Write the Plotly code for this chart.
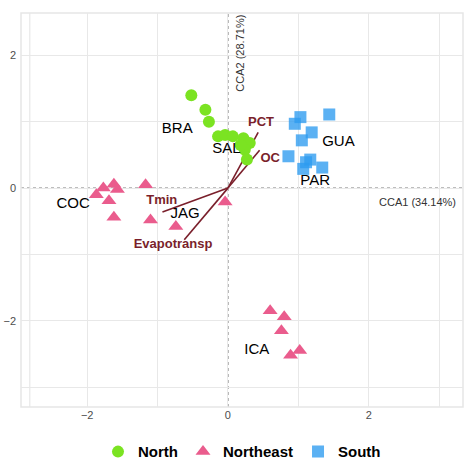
import plotly.graph_objects as go

# ---- data ----
north_x = [-0.52, -0.32, -0.27, -0.14, -0.04, 0.07, 0.22, 0.31, 0.24, 0.27, 0.18]
north_y = [1.40, 1.18, 1.00, 0.78, 0.80, 0.78, 0.75, 0.68, 0.58, 0.43, 0.65]

northeast_x = [-1.87, -1.77, -1.62, -1.57, -1.69, -1.62, -1.17, -1.10, -0.74, -0.04,
               0.60, 0.80, 0.76, 0.89, 1.02]
northeast_y = [-0.10, 0.00, 0.06, -0.02, -0.19, -0.44, 0.05, -0.48, -0.58, -0.21,
               -1.85, -1.94, -2.15, -2.52, -2.45]

south_x = [1.03, 0.95, 1.44, 1.19, 1.05, 0.86, 1.17, 1.11, 1.07, 1.34]
south_y = [1.07, 0.97, 1.11, 0.84, 0.72, 0.48, 0.43, 0.39, 0.29, 0.31]

vec_names = ["PCT", "OC", "Tmin", "Evapotransp"]
vec_x = [0.43, 0.45, -0.93, -0.62]
vec_y = [0.84, 0.57, -0.36, -0.78]
vec_label_x = [0.47, 0.60, -0.94, -0.78]
vec_label_y = [0.98, 0.44, -0.19, -0.86]

site_names = ["BRA", "SAL", "GUA", "PAR", "COC", "JAG", "ICA"]
site_x = [-0.72, -0.02, 1.57, 1.24, -2.20, -0.61, 0.41]
site_y = [0.88, 0.58, 0.69, 0.11, -0.24, -0.40, -2.44]

axis_label_x = "CCA1 (34.14%)"
axis_label_y = "CCA2 (28.71%)"
tick_vals = [-3, -2, -1, 0, 1, 2, 3]
tick_text = ["", "\u22122", "", "0", "", "2", ""]

FONT = "Liberation Sans, Arial, sans-serif"
RED = "#7A1F2B"

fig = go.Figure()

# vectors
lx, ly = [], []
for x, y in zip(vec_x, vec_y):
    lx += [0, x, None]
    ly += [0, y, None]
fig.add_trace(go.Scatter(x=lx, y=ly, mode="lines", line=dict(color=RED, width=1.6),
                         showlegend=False, hoverinfo="skip"))

fig.add_trace(go.Scatter(x=north_x, y=north_y, mode="markers", name="North",
                         marker=dict(symbol="circle", size=12, color="#7BE322")))
fig.add_trace(go.Scatter(x=northeast_x, y=northeast_y, mode="markers", name="Northeast",
                         marker=dict(symbol="triangle-up", size=13, color="#EA5C8D")))
fig.add_trace(go.Scatter(x=south_x, y=south_y, mode="markers", name="South",
                         marker=dict(symbol="square", size=12, color="rgba(45,155,240,0.78)")))

fig.add_trace(go.Scatter(x=vec_label_x, y=vec_label_y, mode="text", text=vec_names,
                         textfont=dict(family=FONT, size=13, color=RED, weight="bold"),
                         showlegend=False, hoverinfo="skip"))
fig.add_trace(go.Scatter(x=site_x, y=site_y, mode="text", text=site_names,
                         textfont=dict(family=FONT, size=15, color="black"),
                         showlegend=False, hoverinfo="skip"))

fig.add_annotation(x=2.70, y=-0.21, text=axis_label_x, showarrow=False,
                   font=dict(family=FONT, size=11, color="#333333"))
fig.add_annotation(x=0.17, y=2.04, text=axis_label_y, showarrow=False, textangle=-90,
                   font=dict(family=FONT, size=11, color="#333333"))

# reference dotted lines
fig.add_shape(type="line", x0=0, x1=0, y0=0, y1=1, xref="x", yref="paper",
              line=dict(color="#555555", width=1, dash="dot"), layer="below")
fig.add_shape(type="line", x0=0, x1=1, y0=0, y1=0, xref="paper", yref="y",
              line=dict(color="#555555", width=1, dash="dot"), layer="below")
# faint left line + panel border
fig.add_shape(type="line", x0=0.02, x1=0.02, y0=0, y1=1, xref="paper", yref="paper",
              line=dict(color="#E3E3E3", width=1), layer="below")
fig.add_shape(type="rect", x0=0, x1=1, y0=0, y1=1, xref="paper", yref="paper",
              line=dict(color="#E6E6E6", width=1.5), layer="below")

axis_common = dict(tickvals=tick_vals, ticktext=tick_text, showgrid=True,
                   gridcolor="#E8E8E8", gridwidth=1, zeroline=False, showline=False,
                   ticks="", automargin=False,
                   tickfont=dict(family=FONT, size=11, color="#4D4D4D"))
fig.update_xaxes(range=[-2.94, 3.34], **axis_common)
fig.update_yaxes(range=[-3.30, 2.64], ticklabelstandoff=4, **axis_common)

fig.update_layout(
    width=474, height=474,
    margin=dict(l=21, r=11, t=13, b=67, autoexpand=False),
    plot_bgcolor="white", paper_bgcolor="white",
    font=dict(family=FONT),
    legend=dict(orientation="h", x=0.5, xanchor="center", y=-0.072, yanchor="top",
                font=dict(family=FONT, size=15, color="black", weight="bold"),
                itemsizing="trace", itemwidth=30),
)

fig.write_html("out.html")
